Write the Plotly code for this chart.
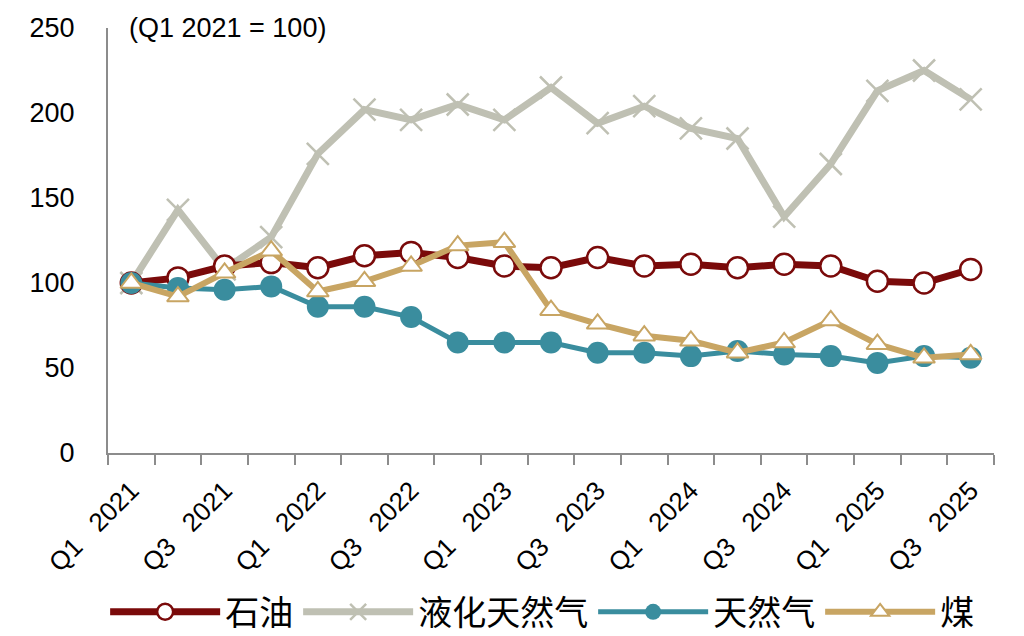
import plotly.graph_objects as go

quarters = [f"Q{q}\u00a0\u00a0\u00a0{y}" for y in range(2021, 2026) for q in (1, 2, 3, 4)][:19]
tick_text = [q if i % 2 == 0 else "" for i, q in enumerate(quarters)]

oil = [100, 103, 110, 112, 109, 116, 118, 115, 110, 109, 115, 110, 111, 109, 111, 110, 101, 100, 108]
lng = [100, 143, 108, 127, 176, 202, 196, 205, 196, 215, 194, 204, 191, 185, 139, 170, 213, 225, 208]
gas = [100, 97, 96, 98, 86, 86, 80, 65, 65, 65, 59, 59, 57, 60, 58, 57, 53, 57, 56]
coal = [100, 92, 106, 119, 95, 101, 110, 122, 124, 84, 76, 69, 66, 59, 65, 78, 64, 56, 58]

FONT = "Arial, Liberation Sans, Noto Sans CJK SC, sans-serif"

fig = go.Figure()
fig.add_trace(go.Scatter(
    x=quarters, y=lng, name="液化天然气", mode="lines+markers", legendrank=2,
    line=dict(color="#BFC0B3", width=7),
    marker=dict(symbol="x-thin", size=22, line=dict(color="#BFC0B3", width=2.5)),
))
fig.add_trace(go.Scatter(
    x=quarters, y=oil, name="石油", mode="lines+markers", legendrank=1,
    line=dict(color="#7A0A0A", width=7),
    marker=dict(symbol="circle", size=21, color="white", line=dict(color="#7A0A0A", width=2.5)),
))
fig.add_trace(go.Scatter(
    x=quarters, y=gas, name="天然气", mode="lines+markers", legendrank=3,
    line=dict(color="#3A8D9E", width=5),
    marker=dict(symbol="circle", size=22, color="#3A8D9E"),
))
fig.add_trace(go.Scatter(
    x=quarters, y=coal, name="煤", mode="lines+markers", legendrank=4,
    line=dict(color="#C8A563", width=6),
    marker=dict(symbol="triangle-up", size=19, color="white", line=dict(color="#C8A563", width=2)),
))

fig.update_layout(
    width=1024, height=636,
    margin=dict(l=100, r=38, t=20, b=191),
    paper_bgcolor="white", plot_bgcolor="white",
    font=dict(family=FONT, size=26, color="black"),
    showlegend=True,
    legend=dict(orientation="h", x=0.49, xanchor="center", yref="container", y=0.05,
                yanchor="middle", font=dict(size=34), itemwidth=110, traceorder="normal"),
    annotations=[dict(text="(Q1 2021 = 100)", xref="paper", yref="paper", x=0.022, y=1.0,
                      xanchor="left", yanchor="middle", showarrow=False, font=dict(size=27))],
)
fig.update_xaxes(
    type="category", tickmode="array", tickvals=quarters, ticktext=tick_text,
    tickson="boundaries", ticks="outside", ticklen=10, tickwidth=2, tickcolor="#8C8C8C",
    showline=True, linecolor="#8C8C8C", linewidth=2, showgrid=False, automargin=False,
    tickangle=-45, tickfont=dict(size=26), range=[-0.5, 18.5], ticklabelstandoff=10,
)
fig.update_yaxes(
    range=[0, 250], dtick=50, showline=True, linecolor="#8C8C8C", linewidth=2,
    showgrid=False, zeroline=False, ticks="", tickfont=dict(size=27), ticklabelstandoff=26,
    automargin=False,
)

fig.write_html("out.html")
